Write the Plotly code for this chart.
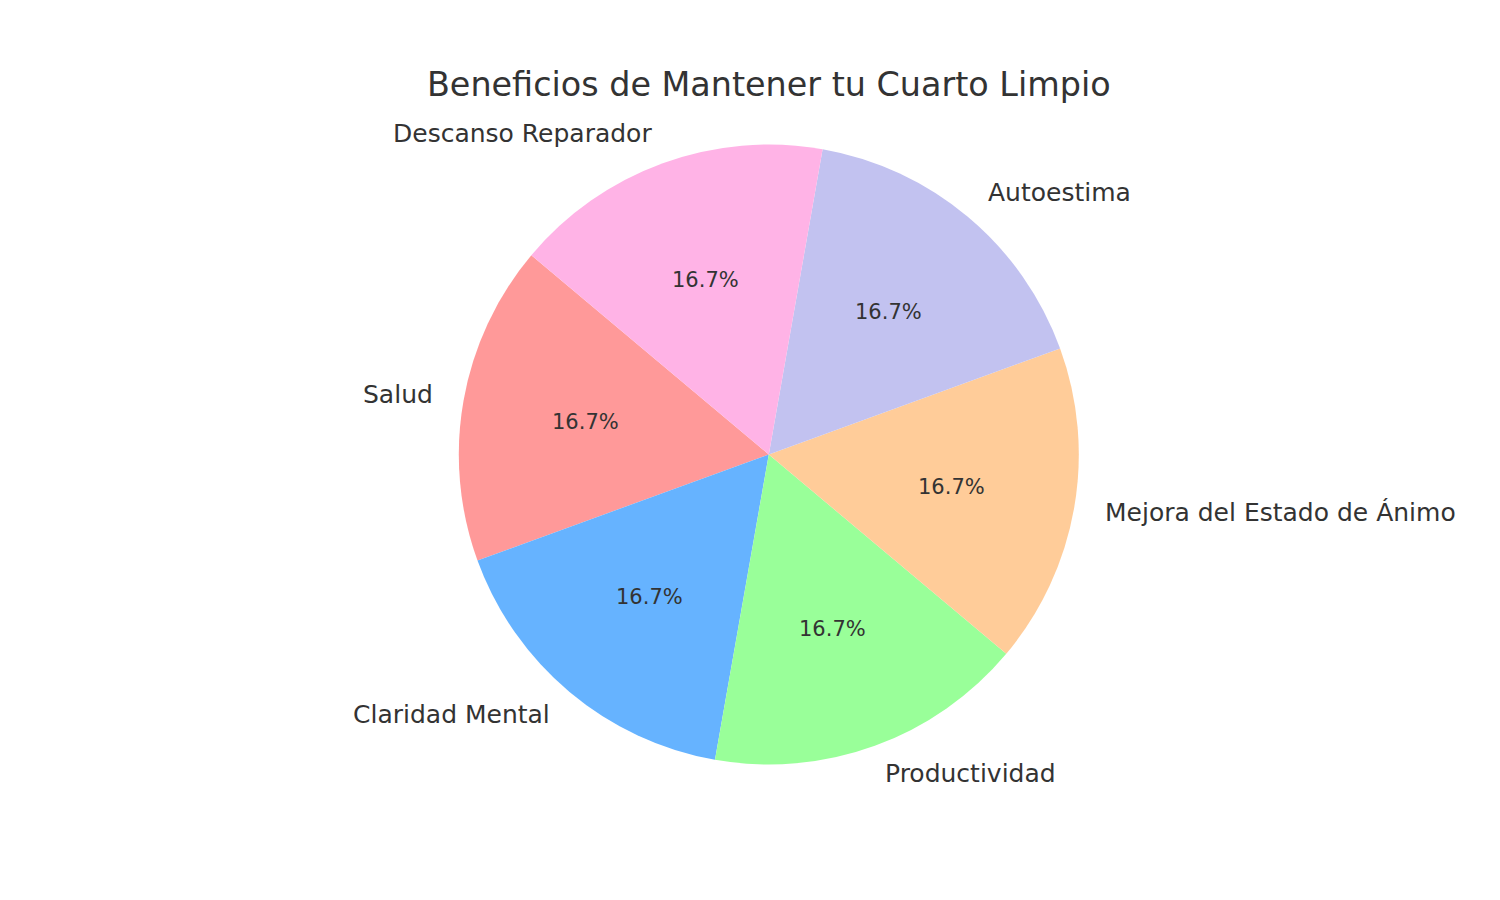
import math
import plotly.graph_objects as go

labels = ['Salud', 'Claridad Mental', 'Productividad', 'Mejora del Estado de Ánimo', 'Autoestima', 'Descanso Reparador']
values = [1, 1, 1, 1, 1, 1]
colors = ['#ff9999', '#66b3ff', '#99ff99', '#ffcc99', '#c2c2f0', '#ffb3e6']

# la pagina deja 8px de margen en el body
width = 1484
height = 884
cx = 760.8
cy = 446.5
radius = 310
start_angle = 140
text_color = '#333333'

total = sum(values)
first_sweep = 360 * values[0] / total

fig = go.Figure()
fig.add_trace(go.Pie(
    labels=labels,
    values=values,
    sort=False,
    direction='counterclockwise',
    rotation=(90 - start_angle - first_sweep) % 360,
    marker=dict(colors=colors, line=dict(width=0)),
    textinfo='none',
    showlegend=False,
    domain=dict(
        x=[(cx - radius) / width, (cx + radius) / width],
        y=[1 - (cy + radius) / height, 1 - (cy - radius) / height]
    )
))

# etiquetas y porcentajes a mano, la torta de plotly no deja poner ambos
angle = start_angle
for label, value in zip(labels, values):
    sweep = 360 * value / total
    mid = math.radians(angle + sweep / 2)
    angle += sweep
    side = 1 if math.cos(mid) > 0 else -1
    lx = cx + 1.1 * radius * math.cos(mid) - 2 * side
    ly = cy - 1.1 * radius * math.sin(mid) - 1
    fig.add_annotation(
        x=lx / width, y=1 - ly / height, xref='paper', yref='paper',
        text=label, showarrow=False,
        xanchor='left' if side > 0 else 'right', yanchor='middle',
        font=dict(size=25, color=text_color)
    )
    px = cx + 0.6 * radius * math.cos(mid)
    py = cy - 0.6 * radius * math.sin(mid)
    fig.add_annotation(
        x=px / width, y=1 - py / height, xref='paper', yref='paper',
        text=f'{100 * value / total:.1f}%', showarrow=False,
        xanchor='center', yanchor='middle',
        font=dict(size=21, color=text_color)
    )

fig.update_layout(
    width=width,
    height=height,
    margin=dict(l=0, r=0, t=0, b=0),
    paper_bgcolor='white',
    font=dict(family='DejaVu Sans', color=text_color),
    title=dict(
        text='Beneficios de Mantener tu Cuarto Limpio',
        x=cx / width, xanchor='center',
        y=1 - 76 / height, yanchor='middle',
        font=dict(size=33.4, color=text_color)
    )
)

fig.write_html("out.html")
